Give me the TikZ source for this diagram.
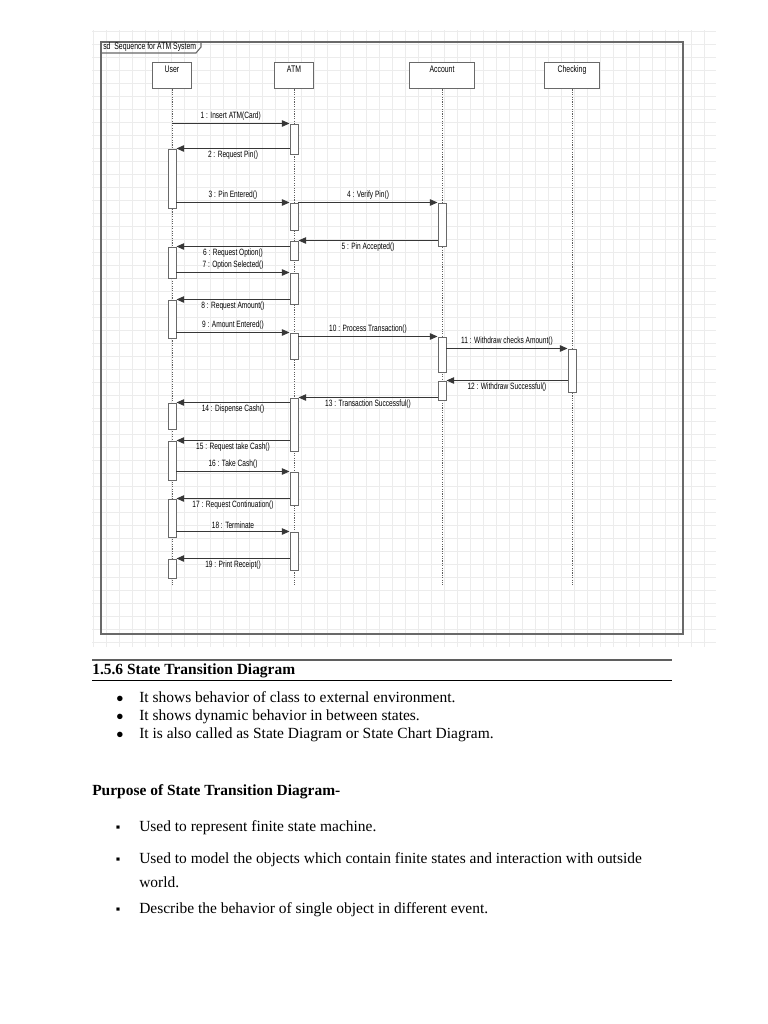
\documentclass[tikz,border=0pt]{standalone}
\usepackage{fontspec}
\setmainfont{Liberation Serif}
\setsansfont{Liberation Sans}
\newfontfamily\umlfont[FakeStretch=0.72]{Liberation Sans}
\usetikzlibrary{positioning, fit, arrows.meta}
\definecolor{clGrid}  {RGB}{236,236,236}
\definecolor{clFrame} {RGB}{105,105,105}
\definecolor{clLine}  {RGB}{ 55, 55, 55}
\definecolor{clLife}  {RGB}{ 95, 95, 95}
\definecolor{clRule}  {RGB}{ 95, 95, 95}
\tikzset{
  %% background grid of the modelling tool
  gridLn/.style={draw=clGrid, line width=0.5pt},
  %% outer sd frame
  frame/.style={draw=clFrame, line width=1.1pt},
  %% lifeline head
  head/.style={
    rectangle, draw=clFrame, fill=white, line width=0.8pt,
    inner sep=0pt, text height=7.5pt, text depth=11.6pt,
    font=\umlfont\fontsize{6.8}{8}\selectfont
  },
  %% dotted lifeline
  life/.style={draw=clLife, line width=0.7pt, dash pattern=on 0.8pt off 0.9pt},
  %% activation bar
  act/.style={rectangle, draw=clFrame, fill=white, line width=0.7pt, inner sep=0pt},
  %% messages
  msg/.style={draw=clLine, line width=0.6pt, -{Triangle[length=5.4pt, width=4.6pt]}},
  lblUp/.style={above, inner sep=1.6pt, font=\umlfont\fontsize{6.5}{7}\selectfont},
  lblDn/.style={below, inner sep=1.6pt, font=\umlfont\fontsize{6.5}{7}\selectfont},
  %% document text
  body/.style={anchor=base west, inner sep=0pt, font=\fontsize{11}{17}\selectfont, align=left},
  heading/.style={body, font=\bfseries\fontsize{11}{12}\selectfont},
  dotBul/.style={anchor=base, inner sep=0pt, font=\fontsize{9}{9}\selectfont},
  sqBul/.style={anchor=base, inner sep=0pt, font=\fontsize{9}{9}\selectfont}
}

\begin{document}
\begin{tikzpicture}[x=0.025cm, y=-0.025cm]
\useasboundingbox (0,0) rectangle (768,1024);

%% ═══════════════════════════════════════════════════════════════
%%  GRID + FRAME
%% ═══════════════════════════════════════════════════════════════

\foreach \gx in {93,106,...,716} \draw[gridLn] (\gx,30) -- (\gx,647);
\foreach \gy in {31,44,...,647} \draw[gridLn] (92,\gy) -- (716,\gy);

\draw[frame] (101,42) rectangle (683,634);
\draw[frame, line width=0.8pt] (101,53) -- (196,53) -- (201,47) -- (201,42);
\node[anchor=west, inner sep=0pt, font=\umlfont\fontsize{6.8}{8}\selectfont]
  (sdTitle) at (103,47.5) {sd\ \ Sequence for ATM System};

%% ═══════════════════════════════════════════════════════════════
%%  LIFELINES
%% ═══════════════════════════════════════════════════════════════

\node[head, minimum width=28.3pt] (user)  at (172,75.5) {User};
\node[head, minimum width=27.6pt] (atm)   at (294,75.5) {ATM};
\node[head, minimum width=46.8pt] (acct)  at (442,75.5) {Account};
\node[head, minimum width=39pt]   (check) at (572,75.5) {Checking};

\coordinate (lifeEnd) at (0,585);
\draw[life] (user.south)  -- (user.south  |- lifeEnd);
\draw[life] (atm.south)   -- (atm.south   |- lifeEnd);
\draw[life] (acct.south)  -- (acct.south  |- lifeEnd);
\draw[life] (check.south) -- (check.south |- lifeEnd);

%% ═══════════════════════════════════════════════════════════════
%%  ACTIVATION BARS
%% ═══════════════════════════════════════════════════════════════

%% User
\node[act, fit={(168,149)(176,208)}] (uA1) {};
\node[act, fit={(168,247)(176,278)}] (uA2) {};
\node[act, fit={(168,300)(176,338)}] (uA3) {};
\node[act, fit={(168,403)(176,429)}] (uA4) {};
\node[act, fit={(168,441)(176,480)}] (uA5) {};
\node[act, fit={(168,499)(176,537)}] (uA6) {};
\node[act, fit={(168,559)(176,578)}] (uA7) {};
%% ATM
\node[act, fit={(290,124)(298,154)}] (aA1) {};
\node[act, fit={(290,203)(298,230)}] (aA2) {};
\node[act, fit={(290,241)(298,260)}] (aA3) {};
\node[act, fit={(290,273)(298,304)}] (aA4) {};
\node[act, fit={(290,333)(298,359)}] (aA5) {};
\node[act, fit={(290,398)(298,451)}] (aA6) {};
\node[act, fit={(290,472)(298,505)}] (aA7) {};
\node[act, fit={(290,532)(298,570)}] (aA8) {};
%% Account
\node[act, fit={(438,203)(446,246)}] (cA1) {};
\node[act, fit={(438,337)(446,372)}] (cA2) {};
\node[act, fit={(438,381)(446,400)}] (cA3) {};
%% Checking
\node[act, fit={(568,349)(576,392)}] (kA1) {};

%% ═══════════════════════════════════════════════════════════════
%%  MESSAGES
%% ═══════════════════════════════════════════════════════════════

\draw[msg] (user |- aA1.north) -- node[lblUp]{1 : Insert ATM(Card)} (aA1.north west);
\draw[msg] (aA1.west |- uA1.north) -- node[lblDn]{2 : Request Pin()} (uA1.north east);
\draw[msg] (uA1.east |- aA2.north) -- node[lblUp]{3 : Pin Entered()} (aA2.north west);
\draw[msg] (aA2.east |- cA1.north) -- node[lblUp]{4 : Verify Pin()} (cA1.north west);
\draw[msg] (cA1.west |- aA3.north) -- node[lblDn]{5 : Pin Accepted()} (aA3.north east);
\draw[msg] (aA3.west |- uA2.north) -- node[lblDn]{6 : Request Option()} (uA2.north east);
\draw[msg] (uA2.east |- aA4.north) -- node[lblUp]{7 : Option Selected()} (aA4.north west);
\draw[msg] (aA4.west |- uA3.north) -- node[lblDn]{8 : Request Amount()} (uA3.north east);
\draw[msg] (uA3.east |- aA5.north) -- node[lblUp]{9 : Amount Entered()} (aA5.north west);
\draw[msg] (aA5.east |- cA2.north) -- node[lblUp]{10 : Process Transaction()} (cA2.north west);
\draw[msg] (cA2.east |- kA1.north) -- node[lblUp]{11 : Withdraw checks Amount()} (kA1.north west);
\draw[msg] (kA1.west |- cA3.north) -- node[lblDn]{12 : Withdraw Successful()} (cA3.north east);
\draw[msg] (cA3.west |- aA6.north) -- node[lblDn]{13 : Transaction Successful()} (aA6.north east);
\draw[msg] (aA6.west |- uA4.north) -- node[lblDn]{14 : Dispense Cash()} (uA4.north east);
\draw[msg] (aA6.west |- uA5.north) -- node[lblDn]{15 : Request take Cash()} (uA5.north east);
\draw[msg] (uA5.east |- aA7.north) -- node[lblUp]{16 : Take Cash()} (aA7.north west);
\draw[msg] (aA7.west |- uA6.north) -- node[lblDn]{17 : Request Continuation()} (uA6.north east);
\draw[msg] (uA6.east |- aA8.north) -- node[lblUp]{18 : Terminate} (aA8.north west);
\draw[msg] (aA8.west |- uA7.north) -- node[lblDn]{19 : Print Receipt()} (uA7.north east);

%% ═══════════════════════════════════════════════════════════════
%%  TEXT BELOW THE DIAGRAM
%% ═══════════════════════════════════════════════════════════════

\draw[draw=clRule, line width=1.3pt] (92,660) -- (672,660);
\node[heading] (secTitle) at (92,674) {1.5.6 State Transition Diagram};
\draw[draw=black, line width=1.3pt] (92,680.5) -- (672,680.5);

\node[dotBul] (b1) at (120,702) {●};
\node[body]   (t1) at (139,702) {It shows behavior of class to external environment.};
\node[dotBul] (b2) at (120,720) {●};
\node[body]   (t2) at (139,720) {It shows dynamic behavior in between states.};
\node[dotBul] (b3) at (120,738) {●};
\node[body]   (t3) at (139,738) {It is also called as State Diagram or State Chart Diagram.};

\node[heading] (purpose) at (92,795) {Purpose of State Transition Diagram-};

\node[sqBul] (s1) at (118,831) {▪};
\node[body]  (p1) at (139,831) {Used to represent finite state machine.};
\node[sqBul] (s2) at (118,863) {▪};
\node[body]  (p2) at (139,887) {Used to model the objects which contain finite states and interaction with outside\\world.};
\node[sqBul] (s3) at (118,913) {▪};
\node[body]  (p3) at (139,913) {Describe the behavior of single object in different event.};

\end{tikzpicture}
\end{document}
